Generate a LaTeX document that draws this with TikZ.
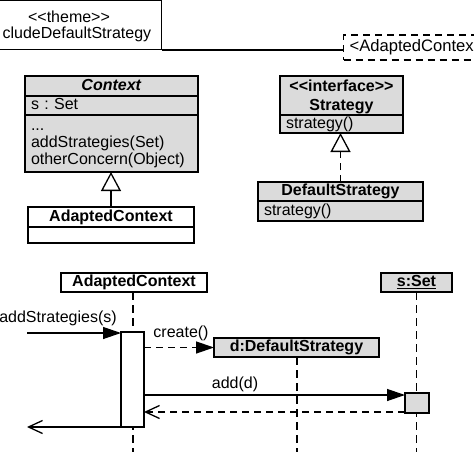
\documentclass[tikz,border=0pt]{standalone}
\usepackage{fontspec}
\setmainfont{Liberation Sans}
\usetikzlibrary{arrows.meta,positioning}
\definecolor{umlgray}{gray}{0.86}
\begin{document}
\begin{tikzpicture}[x=1pt,y=-1pt,line width=1.3pt,font=\fontsize{16}{17}\selectfont,line join=miter]
			\tikzset{cls/.style={draw,fill=umlgray,anchor=north west,inner xsep=6pt,inner ysep=0pt,outer sep=0pt,text height=12pt,text depth=4pt},
				obj/.style={draw,inner sep=0pt,outer sep=0pt,text height=12pt,text depth=4pt},
				gen/.style={-{Triangle[length=19pt,width=20pt,fill=white]}},
				call/.style={-{Triangle[length=18pt,width=12pt]}},
				ret/.style={-{Straight Barb[length=14pt,width=13pt]}},
				dsh/.style={dash pattern=on 7pt off 5pt},
				life/.style={line width=1.2pt,dash pattern=on 8pt off 5pt}}
			\useasboundingbox (0,0) rectangle (474,474);
			\clip (0,0) rectangle (474,474);
			% theme
			\node[draw,fill=white,minimum width=200pt,minimum height=49pt,anchor=south east,inner sep=0pt] (theme) at (162,50) {};
			\node (themeTag) at (69,17) {<{}<theme>{}>};
			\node[anchor=west,inner sep=0pt,text height=12pt,text depth=4pt] (themeName) at (2,34) {cludeDefaultStrategy};
			\node[draw,dsh,fill=white,anchor=west,minimum height=25pt,inner xsep=6pt,inner ysep=0pt,text height=12pt,text depth=4pt,font=\fontsize{16.6}{17}\selectfont] (param) at (343,47.5) {<AdaptedContext>};
			\draw (theme.south east) -- (theme.south east -| param.west);
			% class diagram
			\node[cls,minimum width=173pt,minimum height=20pt] (ctxName) at (25,76) {\textbf{\textit{Context}}};
			\node[cls,text width=161pt,minimum height=19pt,align=left] (ctxAttr) at (ctxName.south west) {s :\ Set};
			\node[cls,text width=161pt,minimum height=57pt,align=left,text depth=38pt] (ctxOps) at (ctxAttr.south west) {...\\addStrategies(Set)\\otherConcern(Object)};
			\node[cls,fill=white,minimum width=166pt,minimum height=20pt] (acName) at (28,207) {\textbf{AdaptedContext}};
			\node[cls,fill=white,minimum width=166pt,minimum height=16pt] (acBody) at (acName.south west) {};
			\draw[gen] (acName.north) -- (acName.north |- ctxOps.south);
			\node[cls,text width=111pt,minimum height=39pt,align=center,text depth=21pt] (strName) at (280,76) {\textbf{<{}<interface>{}>}\\[2pt]\textbf{Strategy}};
			\node[cls,text width=111pt,minimum height=18pt,align=left] (strOps) at (strName.south west) {strategy()};
			\node[cls,minimum width=165pt,minimum height=19pt] (dsName) at (258,182) {\textbf{DefaultStrategy}};
			\node[cls,text width=153pt,minimum height=20pt,align=left] (dsOps) at (dsName.south west) {strategy()};
			\draw[gen,dsh] (dsName.north) -- (dsName.north |- strOps.south);
			% sequence diagram
			\node[obj,fill=white,minimum width=146pt,minimum height=19pt] (objAC) at (134,282.5) {\underline{\textbf{AdaptedContext}}};
			\node[obj,fill=umlgray,minimum width=71pt,minimum height=19pt] (objSet) at (416.5,282.5) {\underline{\textbf{s:Set}}};
			\node[obj,fill=umlgray,minimum width=165pt,minimum height=19pt] (objD) at (296.5,347.5) {\underline{\textbf{d:DefaultStrategy}}};
			\coordinate (lifeAC) at (133,452);
			\coordinate (lifeSet) at (416.5,452);
			\coordinate (lifeD) at (297,452);
			\draw[life] (objAC.south -| lifeAC) -- (lifeAC);
			\draw[life] (objSet.south) -- (lifeSet);
			\draw[life] (objD.south -| lifeD) -- (lifeD);
			\node[obj,fill=white,minimum width=23pt,minimum height=95pt] (actAC) at (132.5,379.5) {};
			\node[obj,fill=umlgray,minimum width=24pt,minimum height=20pt] (actSet) at (417,403) {};
			\coordinate (callIn) at (27,333);
			\coordinate (callOut) at (27,427);
			\coordinate (mAdd) at (0,395);
			\coordinate (mRet) at (0,412);
			\draw[call] (callIn) -- (callIn -| actAC.west);
			\node (lblCall) at (58,318) {addStrategies(s)};
			\draw[call,dsh] (actAC.east |- objD.west) -- (objD.west);
			\node (lblCreate) at (181,333) {create()};
			\draw[call] (actAC.east |- mAdd) -- (actSet.west |- mAdd);
			\node (lblAdd) at (235,384) {add(d)};
			\draw[ret,dsh] (actSet.west |- mRet) -- (actAC.east |- mRet);
			\draw[ret] (actAC.south west) -- (callOut);
		\end{tikzpicture}
\end{document}
